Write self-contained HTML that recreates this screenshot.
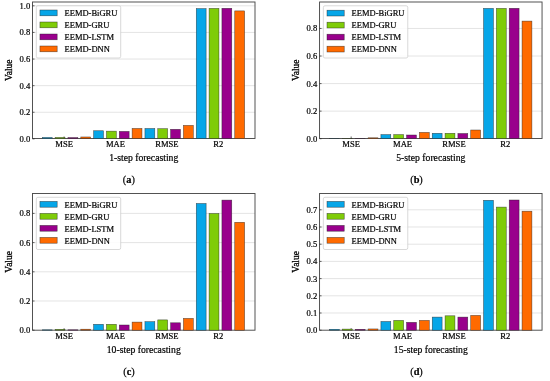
<!DOCTYPE html>
<html><head><meta charset="utf-8"><title>Figure</title>
<style>
html,body{margin:0;padding:0;background:#fff;}
svg{display:block;}
text{font-family:"Liberation Serif","Times New Roman",serif;fill:#000;stroke:#000;stroke-width:0.2px;}
.tk{font-size:8.6px;}
.lb{font-size:9.7px;}
.yl{font-size:9.5px;stroke-width:0.3px;}
.lg{font-size:8.5px;}
.cp{font-size:10.3px;}
</style></head><body>
<svg width="550" height="381" viewBox="0 0 550 381">
<rect x="0" y="0" width="550" height="381" fill="#ffffff"/>
<g>
<line x1="32.50" y1="112.28" x2="255.00" y2="112.28" stroke="#d8d8d8" stroke-width="0.7"/>
<line x1="32.50" y1="85.66" x2="255.00" y2="85.66" stroke="#d8d8d8" stroke-width="0.7"/>
<line x1="32.50" y1="59.04" x2="255.00" y2="59.04" stroke="#d8d8d8" stroke-width="0.7"/>
<line x1="32.50" y1="32.42" x2="255.00" y2="32.42" stroke="#d8d8d8" stroke-width="0.7"/>
<line x1="32.50" y1="5.80" x2="255.00" y2="5.80" stroke="#d8d8d8" stroke-width="0.7"/>
<rect x="32.50" y="2.00" width="222.50" height="136.50" fill="none" stroke="#4a4a4a" stroke-width="0.95"/>
<line x1="64.10" y1="138.50" x2="64.10" y2="136.50" stroke="#222" stroke-width="0.7"/>
<line x1="115.50" y1="138.50" x2="115.50" y2="136.50" stroke="#222" stroke-width="0.7"/>
<line x1="166.90" y1="138.50" x2="166.90" y2="136.50" stroke="#222" stroke-width="0.7"/>
<line x1="218.30" y1="138.50" x2="218.30" y2="136.50" stroke="#222" stroke-width="0.7"/>
<rect x="42.30" y="137.44" width="9.85" height="1.06" fill="#06a6e8" stroke="#222" stroke-opacity="0.75" stroke-width="0.55"/>
<rect x="55.13" y="137.44" width="9.85" height="1.06" fill="#7fcc08" stroke="#222" stroke-opacity="0.75" stroke-width="0.55"/>
<rect x="67.96" y="137.57" width="9.85" height="0.93" fill="#99008c" stroke="#222" stroke-opacity="0.75" stroke-width="0.55"/>
<rect x="80.79" y="136.97" width="9.85" height="1.53" fill="#ff6a00" stroke="#222" stroke-opacity="0.75" stroke-width="0.55"/>
<rect x="93.62" y="130.75" width="9.85" height="7.75" fill="#06a6e8" stroke="#222" stroke-opacity="0.75" stroke-width="0.55"/>
<rect x="106.45" y="131.15" width="9.85" height="7.35" fill="#7fcc08" stroke="#222" stroke-opacity="0.75" stroke-width="0.55"/>
<rect x="119.28" y="131.40" width="9.85" height="7.10" fill="#99008c" stroke="#222" stroke-opacity="0.75" stroke-width="0.55"/>
<rect x="132.11" y="128.45" width="9.85" height="10.05" fill="#ff6a00" stroke="#222" stroke-opacity="0.75" stroke-width="0.55"/>
<rect x="144.94" y="128.50" width="9.85" height="10.00" fill="#06a6e8" stroke="#222" stroke-opacity="0.75" stroke-width="0.55"/>
<rect x="157.77" y="128.70" width="9.85" height="9.80" fill="#7fcc08" stroke="#222" stroke-opacity="0.75" stroke-width="0.55"/>
<rect x="170.60" y="129.30" width="9.85" height="9.20" fill="#99008c" stroke="#222" stroke-opacity="0.75" stroke-width="0.55"/>
<rect x="183.43" y="125.40" width="9.85" height="13.10" fill="#ff6a00" stroke="#222" stroke-opacity="0.75" stroke-width="0.55"/>
<rect x="196.26" y="8.60" width="9.85" height="129.90" fill="#06a6e8" stroke="#222" stroke-opacity="0.75" stroke-width="0.55"/>
<rect x="209.09" y="8.40" width="9.85" height="130.10" fill="#7fcc08" stroke="#222" stroke-opacity="0.75" stroke-width="0.55"/>
<rect x="221.92" y="8.30" width="9.85" height="130.20" fill="#99008c" stroke="#222" stroke-opacity="0.75" stroke-width="0.55"/>
<rect x="234.75" y="10.90" width="9.85" height="127.60" fill="#ff6a00" stroke="#222" stroke-opacity="0.75" stroke-width="0.55"/>
<line x1="32.50" y1="138.90" x2="34.50" y2="138.90" stroke="#222" stroke-width="0.7"/>
<text class="tk" x="30.20" y="141.85" text-anchor="end">0.0</text>
<line x1="32.50" y1="112.28" x2="34.50" y2="112.28" stroke="#222" stroke-width="0.7"/>
<text class="tk" x="30.20" y="115.23" text-anchor="end">0.2</text>
<line x1="32.50" y1="85.66" x2="34.50" y2="85.66" stroke="#222" stroke-width="0.7"/>
<text class="tk" x="30.20" y="88.61" text-anchor="end">0.4</text>
<line x1="32.50" y1="59.04" x2="34.50" y2="59.04" stroke="#222" stroke-width="0.7"/>
<text class="tk" x="30.20" y="61.99" text-anchor="end">0.6</text>
<line x1="32.50" y1="32.42" x2="34.50" y2="32.42" stroke="#222" stroke-width="0.7"/>
<text class="tk" x="30.20" y="35.37" text-anchor="end">0.8</text>
<line x1="32.50" y1="5.80" x2="34.50" y2="5.80" stroke="#222" stroke-width="0.7"/>
<text class="tk" x="30.20" y="8.75" text-anchor="end">1.0</text>
<text class="tk" x="64.10" y="147.00" text-anchor="middle">MSE</text>
<text class="tk" x="115.50" y="147.00" text-anchor="middle">MAE</text>
<text class="tk" x="166.90" y="147.00" text-anchor="middle">RMSE</text>
<text class="tk" x="218.30" y="147.00" text-anchor="middle">R2</text>
<text class="lb" x="143.75" y="161.10" text-anchor="middle">1-step forecasting</text>
<text class="yl" transform="translate(11.55 70.25) rotate(-90)" text-anchor="middle">Value</text>
<text class="cp" x="128.80" y="182.50" text-anchor="middle">(<tspan font-weight="bold">a</tspan>)</text>
<rect x="36.30" y="5.80" width="84.4" height="52.2" rx="1.6" ry="1.6" fill="#ffffff" fill-opacity="0.85" stroke="#c8c8c8" stroke-width="0.7"/>
<rect x="39.95" y="10.00" width="17.2" height="5.8" fill="#06a6e8" stroke="#222" stroke-opacity="0.75" stroke-width="0.55"/>
<text class="lg" x="64.50" y="16.10">EEMD-BiGRU</text>
<rect x="39.95" y="22.00" width="17.2" height="5.8" fill="#7fcc08" stroke="#222" stroke-opacity="0.75" stroke-width="0.55"/>
<text class="lg" x="64.50" y="28.10">EEMD-GRU</text>
<rect x="39.95" y="34.00" width="17.2" height="5.8" fill="#99008c" stroke="#222" stroke-opacity="0.75" stroke-width="0.55"/>
<text class="lg" x="64.50" y="40.10">EEMD-LSTM</text>
<rect x="39.95" y="46.00" width="17.2" height="5.8" fill="#ff6a00" stroke="#222" stroke-opacity="0.75" stroke-width="0.55"/>
<text class="lg" x="64.50" y="52.10">EEMD-DNN</text>
</g>
<g>
<line x1="319.55" y1="111.14" x2="542.05" y2="111.14" stroke="#d8d8d8" stroke-width="0.7"/>
<line x1="319.55" y1="83.58" x2="542.05" y2="83.58" stroke="#d8d8d8" stroke-width="0.7"/>
<line x1="319.55" y1="56.02" x2="542.05" y2="56.02" stroke="#d8d8d8" stroke-width="0.7"/>
<line x1="319.55" y1="28.46" x2="542.05" y2="28.46" stroke="#d8d8d8" stroke-width="0.7"/>
<rect x="319.55" y="2.00" width="222.50" height="136.50" fill="none" stroke="#4a4a4a" stroke-width="0.95"/>
<line x1="351.15" y1="138.50" x2="351.15" y2="136.50" stroke="#222" stroke-width="0.7"/>
<line x1="402.55" y1="138.50" x2="402.55" y2="136.50" stroke="#222" stroke-width="0.7"/>
<line x1="453.95" y1="138.50" x2="453.95" y2="136.50" stroke="#222" stroke-width="0.7"/>
<line x1="505.35" y1="138.50" x2="505.35" y2="136.50" stroke="#222" stroke-width="0.7"/>
<rect x="329.60" y="138.36" width="9.85" height="0.14" fill="#06a6e8" stroke="#222" stroke-opacity="0.75" stroke-width="0.55"/>
<rect x="342.43" y="138.36" width="9.85" height="0.14" fill="#7fcc08" stroke="#222" stroke-opacity="0.75" stroke-width="0.55"/>
<rect x="355.26" y="138.36" width="9.85" height="0.14" fill="#99008c" stroke="#222" stroke-opacity="0.75" stroke-width="0.55"/>
<rect x="368.09" y="137.80" width="9.85" height="0.70" fill="#ff6a00" stroke="#222" stroke-opacity="0.75" stroke-width="0.55"/>
<rect x="380.92" y="134.60" width="9.85" height="3.90" fill="#06a6e8" stroke="#222" stroke-opacity="0.75" stroke-width="0.55"/>
<rect x="393.75" y="134.60" width="9.85" height="3.90" fill="#7fcc08" stroke="#222" stroke-opacity="0.75" stroke-width="0.55"/>
<rect x="406.58" y="135.00" width="9.85" height="3.50" fill="#99008c" stroke="#222" stroke-opacity="0.75" stroke-width="0.55"/>
<rect x="419.41" y="132.40" width="9.85" height="6.10" fill="#ff6a00" stroke="#222" stroke-opacity="0.75" stroke-width="0.55"/>
<rect x="432.24" y="133.30" width="9.85" height="5.20" fill="#06a6e8" stroke="#222" stroke-opacity="0.75" stroke-width="0.55"/>
<rect x="445.07" y="133.30" width="9.85" height="5.20" fill="#7fcc08" stroke="#222" stroke-opacity="0.75" stroke-width="0.55"/>
<rect x="457.90" y="133.50" width="9.85" height="5.00" fill="#99008c" stroke="#222" stroke-opacity="0.75" stroke-width="0.55"/>
<rect x="470.73" y="130.00" width="9.85" height="8.50" fill="#ff6a00" stroke="#222" stroke-opacity="0.75" stroke-width="0.55"/>
<rect x="483.56" y="8.40" width="9.85" height="130.10" fill="#06a6e8" stroke="#222" stroke-opacity="0.75" stroke-width="0.55"/>
<rect x="496.39" y="8.40" width="9.85" height="130.10" fill="#7fcc08" stroke="#222" stroke-opacity="0.75" stroke-width="0.55"/>
<rect x="509.22" y="8.30" width="9.85" height="130.20" fill="#99008c" stroke="#222" stroke-opacity="0.75" stroke-width="0.55"/>
<rect x="522.05" y="21.10" width="9.85" height="117.40" fill="#ff6a00" stroke="#222" stroke-opacity="0.75" stroke-width="0.55"/>
<line x1="319.55" y1="138.70" x2="321.55" y2="138.70" stroke="#222" stroke-width="0.7"/>
<text class="tk" x="317.25" y="141.65" text-anchor="end">0.0</text>
<line x1="319.55" y1="111.14" x2="321.55" y2="111.14" stroke="#222" stroke-width="0.7"/>
<text class="tk" x="317.25" y="114.09" text-anchor="end">0.2</text>
<line x1="319.55" y1="83.58" x2="321.55" y2="83.58" stroke="#222" stroke-width="0.7"/>
<text class="tk" x="317.25" y="86.53" text-anchor="end">0.4</text>
<line x1="319.55" y1="56.02" x2="321.55" y2="56.02" stroke="#222" stroke-width="0.7"/>
<text class="tk" x="317.25" y="58.97" text-anchor="end">0.6</text>
<line x1="319.55" y1="28.46" x2="321.55" y2="28.46" stroke="#222" stroke-width="0.7"/>
<text class="tk" x="317.25" y="31.41" text-anchor="end">0.8</text>
<text class="tk" x="351.15" y="147.00" text-anchor="middle">MSE</text>
<text class="tk" x="402.55" y="147.00" text-anchor="middle">MAE</text>
<text class="tk" x="453.95" y="147.00" text-anchor="middle">RMSE</text>
<text class="tk" x="505.35" y="147.00" text-anchor="middle">R2</text>
<text class="lb" x="430.80" y="161.10" text-anchor="middle">5-step forecasting</text>
<text class="yl" transform="translate(299.20 70.25) rotate(-90)" text-anchor="middle">Value</text>
<text class="cp" x="416.50" y="182.50" text-anchor="middle">(<tspan font-weight="bold">b</tspan>)</text>
<rect x="323.35" y="5.80" width="84.4" height="52.2" rx="1.6" ry="1.6" fill="#ffffff" fill-opacity="0.85" stroke="#c8c8c8" stroke-width="0.7"/>
<rect x="327.00" y="10.20" width="17.2" height="5.8" fill="#06a6e8" stroke="#222" stroke-opacity="0.75" stroke-width="0.55"/>
<text class="lg" x="351.55" y="16.30">EEMD-BiGRU</text>
<rect x="327.00" y="22.20" width="17.2" height="5.8" fill="#7fcc08" stroke="#222" stroke-opacity="0.75" stroke-width="0.55"/>
<text class="lg" x="351.55" y="28.30">EEMD-GRU</text>
<rect x="327.00" y="34.20" width="17.2" height="5.8" fill="#99008c" stroke="#222" stroke-opacity="0.75" stroke-width="0.55"/>
<text class="lg" x="351.55" y="40.30">EEMD-LSTM</text>
<rect x="327.00" y="46.20" width="17.2" height="5.8" fill="#ff6a00" stroke="#222" stroke-opacity="0.75" stroke-width="0.55"/>
<text class="lg" x="351.55" y="52.30">EEMD-DNN</text>
</g>
<g>
<line x1="32.50" y1="301.00" x2="255.00" y2="301.00" stroke="#d8d8d8" stroke-width="0.7"/>
<line x1="32.50" y1="271.80" x2="255.00" y2="271.80" stroke="#d8d8d8" stroke-width="0.7"/>
<line x1="32.50" y1="242.60" x2="255.00" y2="242.60" stroke="#d8d8d8" stroke-width="0.7"/>
<line x1="32.50" y1="213.40" x2="255.00" y2="213.40" stroke="#d8d8d8" stroke-width="0.7"/>
<rect x="32.50" y="193.50" width="222.50" height="136.70" fill="none" stroke="#4a4a4a" stroke-width="0.95"/>
<line x1="64.10" y1="330.20" x2="64.10" y2="328.20" stroke="#222" stroke-width="0.7"/>
<line x1="115.50" y1="330.20" x2="115.50" y2="328.20" stroke="#222" stroke-width="0.7"/>
<line x1="166.90" y1="330.20" x2="166.90" y2="328.20" stroke="#222" stroke-width="0.7"/>
<line x1="218.30" y1="330.20" x2="218.30" y2="328.20" stroke="#222" stroke-width="0.7"/>
<rect x="42.30" y="329.80" width="9.85" height="0.40" fill="#06a6e8" stroke="#222" stroke-opacity="0.75" stroke-width="0.55"/>
<rect x="55.13" y="329.35" width="9.85" height="0.85" fill="#7fcc08" stroke="#222" stroke-opacity="0.75" stroke-width="0.55"/>
<rect x="67.96" y="329.80" width="9.85" height="0.40" fill="#99008c" stroke="#222" stroke-opacity="0.75" stroke-width="0.55"/>
<rect x="80.79" y="329.20" width="9.85" height="1.00" fill="#ff6a00" stroke="#222" stroke-opacity="0.75" stroke-width="0.55"/>
<rect x="93.62" y="324.30" width="9.85" height="5.90" fill="#06a6e8" stroke="#222" stroke-opacity="0.75" stroke-width="0.55"/>
<rect x="106.45" y="324.30" width="9.85" height="5.90" fill="#7fcc08" stroke="#222" stroke-opacity="0.75" stroke-width="0.55"/>
<rect x="119.28" y="325.00" width="9.85" height="5.20" fill="#99008c" stroke="#222" stroke-opacity="0.75" stroke-width="0.55"/>
<rect x="132.11" y="322.10" width="9.85" height="8.10" fill="#ff6a00" stroke="#222" stroke-opacity="0.75" stroke-width="0.55"/>
<rect x="144.94" y="321.70" width="9.85" height="8.50" fill="#06a6e8" stroke="#222" stroke-opacity="0.75" stroke-width="0.55"/>
<rect x="157.77" y="319.90" width="9.85" height="10.30" fill="#7fcc08" stroke="#222" stroke-opacity="0.75" stroke-width="0.55"/>
<rect x="170.60" y="322.80" width="9.85" height="7.40" fill="#99008c" stroke="#222" stroke-opacity="0.75" stroke-width="0.55"/>
<rect x="183.43" y="318.40" width="9.85" height="11.80" fill="#ff6a00" stroke="#222" stroke-opacity="0.75" stroke-width="0.55"/>
<rect x="196.26" y="203.50" width="9.85" height="126.70" fill="#06a6e8" stroke="#222" stroke-opacity="0.75" stroke-width="0.55"/>
<rect x="209.09" y="213.50" width="9.85" height="116.70" fill="#7fcc08" stroke="#222" stroke-opacity="0.75" stroke-width="0.55"/>
<rect x="221.92" y="200.10" width="9.85" height="130.10" fill="#99008c" stroke="#222" stroke-opacity="0.75" stroke-width="0.55"/>
<rect x="234.75" y="222.30" width="9.85" height="107.90" fill="#ff6a00" stroke="#222" stroke-opacity="0.75" stroke-width="0.55"/>
<line x1="32.50" y1="330.20" x2="34.50" y2="330.20" stroke="#222" stroke-width="0.7"/>
<text class="tk" x="30.20" y="333.15" text-anchor="end">0.0</text>
<line x1="32.50" y1="301.00" x2="34.50" y2="301.00" stroke="#222" stroke-width="0.7"/>
<text class="tk" x="30.20" y="303.95" text-anchor="end">0.2</text>
<line x1="32.50" y1="271.80" x2="34.50" y2="271.80" stroke="#222" stroke-width="0.7"/>
<text class="tk" x="30.20" y="274.75" text-anchor="end">0.4</text>
<line x1="32.50" y1="242.60" x2="34.50" y2="242.60" stroke="#222" stroke-width="0.7"/>
<text class="tk" x="30.20" y="245.55" text-anchor="end">0.6</text>
<line x1="32.50" y1="213.40" x2="34.50" y2="213.40" stroke="#222" stroke-width="0.7"/>
<text class="tk" x="30.20" y="216.35" text-anchor="end">0.8</text>
<text class="tk" x="64.10" y="338.60" text-anchor="middle">MSE</text>
<text class="tk" x="115.50" y="338.60" text-anchor="middle">MAE</text>
<text class="tk" x="166.90" y="338.60" text-anchor="middle">RMSE</text>
<text class="tk" x="218.30" y="338.60" text-anchor="middle">R2</text>
<text class="lb" x="143.75" y="352.70" text-anchor="middle">10-step forecasting</text>
<text class="yl" transform="translate(11.55 261.85) rotate(-90)" text-anchor="middle">Value</text>
<text class="cp" x="129.00" y="375.00" text-anchor="middle">(<tspan font-weight="bold">c</tspan>)</text>
<rect x="36.30" y="197.30" width="84.4" height="52.2" rx="1.6" ry="1.6" fill="#ffffff" fill-opacity="0.85" stroke="#c8c8c8" stroke-width="0.7"/>
<rect x="39.95" y="201.40" width="17.2" height="5.8" fill="#06a6e8" stroke="#222" stroke-opacity="0.75" stroke-width="0.55"/>
<text class="lg" x="64.50" y="207.50">EEMD-BiGRU</text>
<rect x="39.95" y="213.40" width="17.2" height="5.8" fill="#7fcc08" stroke="#222" stroke-opacity="0.75" stroke-width="0.55"/>
<text class="lg" x="64.50" y="219.50">EEMD-GRU</text>
<rect x="39.95" y="225.40" width="17.2" height="5.8" fill="#99008c" stroke="#222" stroke-opacity="0.75" stroke-width="0.55"/>
<text class="lg" x="64.50" y="231.50">EEMD-LSTM</text>
<rect x="39.95" y="237.40" width="17.2" height="5.8" fill="#ff6a00" stroke="#222" stroke-opacity="0.75" stroke-width="0.55"/>
<text class="lg" x="64.50" y="243.50">EEMD-DNN</text>
</g>
<g>
<line x1="319.55" y1="313.00" x2="542.05" y2="313.00" stroke="#d8d8d8" stroke-width="0.7"/>
<line x1="319.55" y1="295.80" x2="542.05" y2="295.80" stroke="#d8d8d8" stroke-width="0.7"/>
<line x1="319.55" y1="278.60" x2="542.05" y2="278.60" stroke="#d8d8d8" stroke-width="0.7"/>
<line x1="319.55" y1="261.40" x2="542.05" y2="261.40" stroke="#d8d8d8" stroke-width="0.7"/>
<line x1="319.55" y1="244.20" x2="542.05" y2="244.20" stroke="#d8d8d8" stroke-width="0.7"/>
<line x1="319.55" y1="227.00" x2="542.05" y2="227.00" stroke="#d8d8d8" stroke-width="0.7"/>
<line x1="319.55" y1="209.80" x2="542.05" y2="209.80" stroke="#d8d8d8" stroke-width="0.7"/>
<rect x="319.55" y="193.50" width="222.50" height="136.70" fill="none" stroke="#4a4a4a" stroke-width="0.95"/>
<line x1="351.15" y1="330.20" x2="351.15" y2="328.20" stroke="#222" stroke-width="0.7"/>
<line x1="402.55" y1="330.20" x2="402.55" y2="328.20" stroke="#222" stroke-width="0.7"/>
<line x1="453.95" y1="330.20" x2="453.95" y2="328.20" stroke="#222" stroke-width="0.7"/>
<line x1="505.35" y1="330.20" x2="505.35" y2="328.20" stroke="#222" stroke-width="0.7"/>
<rect x="329.60" y="329.30" width="9.85" height="0.90" fill="#06a6e8" stroke="#222" stroke-opacity="0.75" stroke-width="0.55"/>
<rect x="342.43" y="329.10" width="9.85" height="1.10" fill="#7fcc08" stroke="#222" stroke-opacity="0.75" stroke-width="0.55"/>
<rect x="355.26" y="329.30" width="9.85" height="0.90" fill="#99008c" stroke="#222" stroke-opacity="0.75" stroke-width="0.55"/>
<rect x="368.09" y="328.95" width="9.85" height="1.25" fill="#ff6a00" stroke="#222" stroke-opacity="0.75" stroke-width="0.55"/>
<rect x="380.92" y="321.50" width="9.85" height="8.70" fill="#06a6e8" stroke="#222" stroke-opacity="0.75" stroke-width="0.55"/>
<rect x="393.75" y="320.40" width="9.85" height="9.80" fill="#7fcc08" stroke="#222" stroke-opacity="0.75" stroke-width="0.55"/>
<rect x="406.58" y="322.34" width="9.85" height="7.86" fill="#99008c" stroke="#222" stroke-opacity="0.75" stroke-width="0.55"/>
<rect x="419.41" y="320.40" width="9.85" height="9.80" fill="#ff6a00" stroke="#222" stroke-opacity="0.75" stroke-width="0.55"/>
<rect x="432.24" y="317.10" width="9.85" height="13.10" fill="#06a6e8" stroke="#222" stroke-opacity="0.75" stroke-width="0.55"/>
<rect x="445.07" y="315.80" width="9.85" height="14.40" fill="#7fcc08" stroke="#222" stroke-opacity="0.75" stroke-width="0.55"/>
<rect x="457.90" y="317.10" width="9.85" height="13.10" fill="#99008c" stroke="#222" stroke-opacity="0.75" stroke-width="0.55"/>
<rect x="470.73" y="315.40" width="9.85" height="14.80" fill="#ff6a00" stroke="#222" stroke-opacity="0.75" stroke-width="0.55"/>
<rect x="483.56" y="200.30" width="9.85" height="129.90" fill="#06a6e8" stroke="#222" stroke-opacity="0.75" stroke-width="0.55"/>
<rect x="496.39" y="207.10" width="9.85" height="123.10" fill="#7fcc08" stroke="#222" stroke-opacity="0.75" stroke-width="0.55"/>
<rect x="509.22" y="200.00" width="9.85" height="130.20" fill="#99008c" stroke="#222" stroke-opacity="0.75" stroke-width="0.55"/>
<rect x="522.05" y="211.20" width="9.85" height="119.00" fill="#ff6a00" stroke="#222" stroke-opacity="0.75" stroke-width="0.55"/>
<line x1="319.55" y1="330.20" x2="321.55" y2="330.20" stroke="#222" stroke-width="0.7"/>
<text class="tk" x="317.25" y="333.15" text-anchor="end">0.0</text>
<line x1="319.55" y1="313.00" x2="321.55" y2="313.00" stroke="#222" stroke-width="0.7"/>
<text class="tk" x="317.25" y="315.95" text-anchor="end">0.1</text>
<line x1="319.55" y1="295.80" x2="321.55" y2="295.80" stroke="#222" stroke-width="0.7"/>
<text class="tk" x="317.25" y="298.75" text-anchor="end">0.2</text>
<line x1="319.55" y1="278.60" x2="321.55" y2="278.60" stroke="#222" stroke-width="0.7"/>
<text class="tk" x="317.25" y="281.55" text-anchor="end">0.3</text>
<line x1="319.55" y1="261.40" x2="321.55" y2="261.40" stroke="#222" stroke-width="0.7"/>
<text class="tk" x="317.25" y="264.35" text-anchor="end">0.4</text>
<line x1="319.55" y1="244.20" x2="321.55" y2="244.20" stroke="#222" stroke-width="0.7"/>
<text class="tk" x="317.25" y="247.15" text-anchor="end">0.5</text>
<line x1="319.55" y1="227.00" x2="321.55" y2="227.00" stroke="#222" stroke-width="0.7"/>
<text class="tk" x="317.25" y="229.95" text-anchor="end">0.6</text>
<line x1="319.55" y1="209.80" x2="321.55" y2="209.80" stroke="#222" stroke-width="0.7"/>
<text class="tk" x="317.25" y="212.75" text-anchor="end">0.7</text>
<text class="tk" x="351.15" y="338.60" text-anchor="middle">MSE</text>
<text class="tk" x="402.55" y="338.60" text-anchor="middle">MAE</text>
<text class="tk" x="453.95" y="338.60" text-anchor="middle">RMSE</text>
<text class="tk" x="505.35" y="338.60" text-anchor="middle">R2</text>
<text class="lb" x="430.80" y="352.70" text-anchor="middle">15-step forecasting</text>
<text class="yl" transform="translate(299.20 261.85) rotate(-90)" text-anchor="middle">Value</text>
<text class="cp" x="416.50" y="375.00" text-anchor="middle">(<tspan font-weight="bold">d</tspan>)</text>
<rect x="323.35" y="197.30" width="84.4" height="52.2" rx="1.6" ry="1.6" fill="#ffffff" fill-opacity="0.85" stroke="#c8c8c8" stroke-width="0.7"/>
<rect x="327.00" y="201.40" width="17.2" height="5.8" fill="#06a6e8" stroke="#222" stroke-opacity="0.75" stroke-width="0.55"/>
<text class="lg" x="351.55" y="207.50">EEMD-BiGRU</text>
<rect x="327.00" y="213.40" width="17.2" height="5.8" fill="#7fcc08" stroke="#222" stroke-opacity="0.75" stroke-width="0.55"/>
<text class="lg" x="351.55" y="219.50">EEMD-GRU</text>
<rect x="327.00" y="225.40" width="17.2" height="5.8" fill="#99008c" stroke="#222" stroke-opacity="0.75" stroke-width="0.55"/>
<text class="lg" x="351.55" y="231.50">EEMD-LSTM</text>
<rect x="327.00" y="237.40" width="17.2" height="5.8" fill="#ff6a00" stroke="#222" stroke-opacity="0.75" stroke-width="0.55"/>
<text class="lg" x="351.55" y="243.50">EEMD-DNN</text>
</g>
</svg>
</body></html>
